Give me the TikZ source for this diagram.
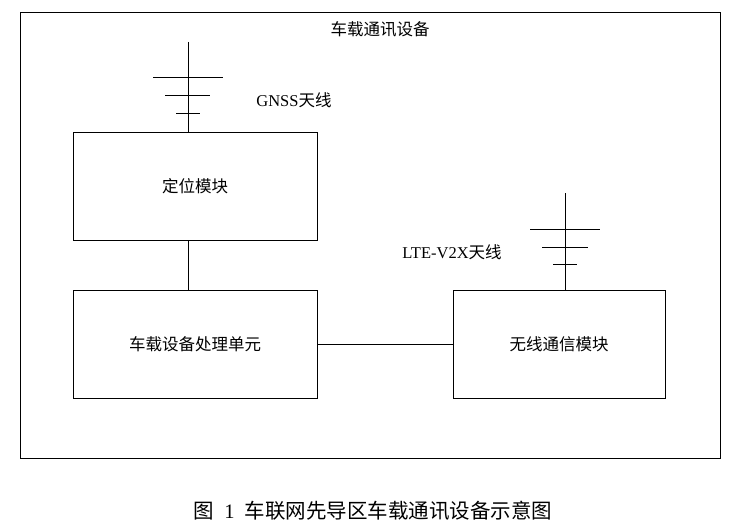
\documentclass[tikz,border=0pt]{standalone}
\usepackage{fontspec}
\setmainfont{Liberation Serif}
\newfontfamily\cjk{Noto Sans CJK SC}
\begin{document}
\begin{tikzpicture}[x=1pt,y=-1pt,
  box/.style={draw,line width=0.8pt,inner sep=0pt},
  lbl/.style={font=\fontsize{16.5}{19}\selectfont},
  ln/.style={line width=0.8pt}]
\useasboundingbox (0,0) rectangle (746,527);
\draw[ln] (20,12) rectangle (720,458);
\node[lbl] (title) at (380,29) {{\cjk 车载通讯设备}};
\node[box,minimum width=244pt,minimum height=108pt,lbl] (pos) at (195,186) {{\cjk 定位模块}};
\node[box,minimum width=244pt,minimum height=108pt,lbl] (proc) at (195,344) {{\cjk 车载设备处理单元}};
\node[box,minimum width=212pt,minimum height=108pt,lbl] (wifi) at (559,344) {{\cjk 无线通信模块}};
\draw[ln] (pos.south -| 188,0) -- (proc.north -| 188,0);
\draw[ln] (proc.east) -- (wifi.east -| wifi.west);
% GNSS antenna
\coordinate (g0) at (188,42);
\draw[ln] (g0) -- (pos.north -| g0);
\draw[ln] (153,77) -- (223,77);
\draw[ln] (165,95) -- (210,95);
\draw[ln] (176,113) -- (200,113);
\node[lbl] (gl) at (294,100) {GNSS{\cjk 天线}};
% LTE antenna
\coordinate (l0) at (565,193);
\draw[ln] (l0) -- (wifi.north -| l0);
\draw[ln] (530,229) -- (600,229);
\draw[ln] (542,247) -- (588,247);
\draw[ln] (553,264) -- (577,264);
\node[lbl] (ll) at (452,252) {LTE-V2X{\cjk 天线}};
\node[font=\fontsize{20.5}{24}\selectfont] (cap) at (373,511) {{\cjk 图}\ \ 1\ \ {\cjk 车联网先导区车载通讯设备示意图}};
\end{tikzpicture}
\end{document}
